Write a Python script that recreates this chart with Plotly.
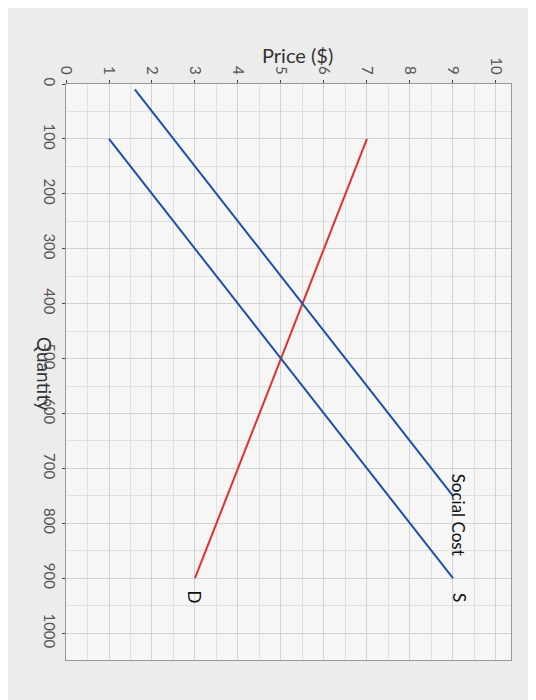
import plotly.graph_objects as go

price_ticks = list(range(0, 11))
qty_ticks = list(range(0, 1001, 100))
d_q = [100, 900]; d_p = [7, 3]
s_q = [100, 900]; s_p = [1, 9]
sc_q = [10, 750]; sc_p = [1.6, 9.0]

fig = go.Figure()
fig.add_trace(go.Scatter(x=d_p, y=d_q, mode="lines", line=dict(color="#e0312f", width=2)))
fig.add_trace(go.Scatter(x=s_p, y=s_q, mode="lines", line=dict(color="#1f4fa8", width=2)))
fig.add_trace(go.Scatter(x=sc_p, y=sc_q, mode="lines", line=dict(color="#1f4fa8", width=2)))
ann = [
    dict(x=9.15, y=935, text="S", textangle=90),
    dict(x=3.0, y=935, text="D", textangle=90),
    dict(x=9.15, y=785, text="Social Cost", textangle=90),
]
anns = [dict(a, xref="x", yref="y", showarrow=False, font=dict(size=17, color="#111")) for a in ann]
anns += [
    dict(text="Price ($)", xref="paper", yref="paper", x=0.52, y=1.0, yshift=43, showarrow=False,
         font=dict(size=20, color="#333")),
    dict(text="Quantity", xref="paper", yref="y", x=0, xshift=-35, y=527, textangle=90, showarrow=False,
         font=dict(size=19, color="#333")),
]
fig.update_layout(
    width=536, height=700, showlegend=False,
    margin=dict(l=58, r=33, t=76, b=48),
    paper_bgcolor="#ececec", plot_bgcolor="#f6f6f6",
    font=dict(family="Lato", color="#555", size=15),
    annotations=anns,
)
fig.update_xaxes(range=[0, 10.35], side="top", tickvals=price_ticks, tickangle=90,
                 showgrid=True, gridcolor="#d2d2d2", zeroline=False,
                 minor=dict(dtick=0.5, showgrid=True, gridcolor="#e0e0e0"),
                 showline=True, linecolor="#999", mirror=True, ticks="outside", ticklen=3)
fig.update_yaxes(range=[1049, 0], tickvals=qty_ticks, tickangle=90,
                 showgrid=True, gridcolor="#d2d2d2", zeroline=False,
                 minor=dict(dtick=50, showgrid=True, gridcolor="#e0e0e0"),
                 showline=True, linecolor="#999", mirror=True, ticks="outside", ticklen=3)
fig.write_html("out.html")
